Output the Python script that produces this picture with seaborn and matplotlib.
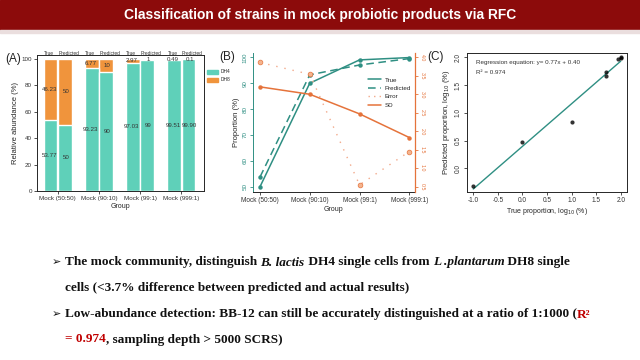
import matplotlib
matplotlib.use("Agg")
import matplotlib.pyplot as plt
from matplotlib.patches import Rectangle, Patch
from matplotlib.lines import Line2D
import seaborn as sns
import pandas as pd

# ---------------- data ----------------
groups = ["Mock (50:50)", "Mock (90:10)", "Mock (99:1)", "Mock (999:1)"]
kinds = ["True", "Predicted"]
dh4_true = [53.77, 93.23, 97.03, 99.51]
dh4_pred = [50, 90, 99, 99.90]
dh8_true = [46.23, 6.77, 2.97, 0.49]
dh8_pred = [50, 10, 1, 0.1]
dh4_true_lbl = ["53.77", "93.23", "97.03", "99.51"]
dh4_pred_lbl = ["50", "90", "99", "99.90"]
dh8_true_lbl = ["46.23", "6.77", "2.97", "0.49"]
dh8_pred_lbl = ["50", "10", "1", "0.1"]

b_true = [50, 90, 99, 99.9]
b_pred = [53.77, 93.23, 97.03, 99.51]
b_error = [3.86, 3.54, 0.55, 1.45]
b_sd = [3.20, 3.00, 2.47, 1.83]
b_right_ticks = [0.5, 1.0, 1.5, 2.0, 2.5, 3.0, 3.5, 4.0]

c_true = [-1.0, 0.0, 1.0, 1.699, 1.699, 1.954, 1.996, 2.0]
c_pred = [-0.31, 0.47, 0.83, 1.665, 1.731, 1.970, 1.987, 1.998]

title = "Classification of strains in mock probiotic products via RFC"

# ---------------- style ----------------
sns.set_style("ticks")
plt.rcParams["font.family"] = ["Liberation Sans", "DejaVu Sans"]
plt.rcParams["axes.linewidth"] = 0.7

TEAL = "#5fd0b9"
ORANGE = "#f0943c"
DTEAL = "#2f8f83"
DORANGE = "#e5733b"
PX = 1 / 640
PY = 1 / 360

fig = plt.figure(figsize=(6.4, 3.6), dpi=100)

# title band
fig.patches.append(Rectangle((0, 1 - 30 * PY), 1, 30 * PY, transform=fig.transFigure,
                             color="#8c0b0b", zorder=0))
fig.patches.append(Rectangle((0, 1 - 33 * PY), 1, 3 * PY, transform=fig.transFigure,
                             color="#eadede", zorder=0))
fig.text(0.5, 1 - 15.5 * PY, title, color="white", fontsize=9.9, fontweight="bold",
         ha="center", va="center")


def ax_at(l, t, r, b):
    return fig.add_axes([l * PX, 1 - b * PY, (r - l) * PX, (b - t) * PY])

# ---------------- panel A ----------------
axA = ax_at(36.7, 55, 204, 191)
rows = []
for i, g in enumerate(groups):
    rows.append(dict(group=g, kind="True", dh4=dh4_true[i], tot=dh4_true[i] + dh8_true[i]))
    rows.append(dict(group=g, kind="Predicted", dh4=dh4_pred[i], tot=dh4_pred[i] + dh8_pred[i]))
dfA = pd.DataFrame(rows)
sns.barplot(data=dfA, x="group", y="tot", hue="kind", hue_order=kinds, order=groups,
            palette=[ORANGE, ORANGE], width=0.7, gap=0.04, ax=axA, legend=False,
            saturation=1, errorbar=None)
sns.barplot(data=dfA, x="group", y="dh4", hue="kind", hue_order=kinds, order=groups,
            palette=[TEAL, TEAL], width=0.7, gap=0.04, ax=axA, legend=False,
            saturation=1, errorbar=None)
axA.set_xlim(-0.51, 3.55)
axA.set_ylim(0, 103)
axA.set_yticks([0, 20, 40, 60, 80, 100])
axA.tick_params(labelsize=4.5, length=2, width=0.6, pad=1.5, colors="#333333")
axA.set_xlabel("Group", fontsize=5, labelpad=1.5)
axA.set_ylabel("Relative abundance (%)", fontsize=5.5, labelpad=2)
for sp in axA.spines.values():
    sp.set_visible(True)
off = 0.175
for i in range(len(groups)):
    for dx, sh, a, b, la, lb, kname in [
            (-off, -0.025, dh4_true[i], dh8_true[i], dh4_true_lbl[i], dh8_true_lbl[i], "True"),
            (off, 0.025, dh4_pred[i], dh8_pred[i], dh4_pred_lbl[i], dh8_pred_lbl[i], "Predicted")]:
        axA.text(i + dx + sh, a / 2, la, fontsize=4.4, ha="center", va="center", color="#333333")
        axA.text(i + dx + sh, a + b / 2, lb, fontsize=4.4, ha="center", va="center", color="#333333")
        axA.text(i + dx - 0.16, 102.6, kname, fontsize=3.5, ha="left", va="bottom", color="#333333")
fig.text(5 * PX, 1 - 59 * PY, "(A)", fontsize=8.5, va="center", color="#222222")
fig.legend(handles=[Patch(color=TEAL, label="DH4"), Patch(color=ORANGE, label="DH8")],
           loc="upper left", bbox_to_anchor=(205 * PX, 1 - 67 * PY), frameon=False,
           fontsize=3.5, handlelength=2.2, handleheight=0.8, labelspacing=0.6,
           borderpad=0, handletextpad=0.5)

# ---------------- panel B ----------------
axB = ax_at(252.7, 53.3, 415, 191.7)
xpos = list(range(len(groups)))
sns.lineplot(x=xpos, y=b_true, color=DTEAL, linewidth=1.1, marker="o", markersize=3.2,
             markeredgewidth=0, ax=axB, label="True", legend=False)
sns.lineplot(x=xpos, y=b_pred, color=DTEAL, linewidth=1.1, linestyle=(0, (5, 3)),
             marker="o", markersize=3.2, markeredgewidth=0, ax=axB, label="Predicted", legend=False)
axB.set_xlim(-0.147, 3.115)
axB.set_ylim(48.07, 101.55)
axB.set_yticks([50, 60, 70, 80, 90, 100])
axB.set_xticks(xpos)
axB.set_xticklabels(groups)
axB.tick_params(axis="x", labelsize=4.7, length=2, width=0.6, pad=1.5, colors="#333333")
axB.tick_params(axis="y", labelsize=4.5, length=2, width=0.6, pad=1.5, colors=DTEAL,
                labelrotation=90)
for lab in axB.get_yticklabels():
    lab.set_va("center")
axB.set_xlabel("Group", fontsize=5, labelpad=1.5)
axB.set_ylabel("Proportion (%)", fontsize=5.5, labelpad=2)
axB.spines["left"].set_color(DTEAL)
axB.spines["top"].set_visible(False)
axB.spines["right"].set_visible(False)

axB2 = axB.twinx()
sns.lineplot(x=xpos, y=b_error, color="#f2a98a", linewidth=1.0, linestyle=(0, (1, 5)),
             marker="o", markersize=3.4, markerfacecolor="#f4b48f", markeredgecolor=DORANGE,
             markeredgewidth=0.5, ax=axB2, label="Error", legend=False)
sns.lineplot(x=xpos, y=b_sd, color=DORANGE, linewidth=1.1, marker="o", markersize=3.2,
             markeredgewidth=0, ax=axB2, label="SD", legend=False)
axB2.set_ylim(0.365, 4.108)
axB2.set_yticks(b_right_ticks)
axB2.tick_params(axis="y", labelsize=3.8, length=2, width=0.6, pad=1.5, colors=DORANGE,
                 labelrotation=-90)
for lab in axB2.get_yticklabels():
    lab.set_va("center")
axB2.spines["right"].set_color(DORANGE)
axB2.spines["right"].set_linewidth(0.9)
axB2.spines["left"].set_visible(False)
axB2.spines["top"].set_visible(False)
axB2.spines["bottom"].set_visible(False)
axB2.set_ylabel("")
h = [Line2D([], [], color=DTEAL, lw=1.1), Line2D([], [], color=DTEAL, lw=1.1, ls=(0, (5, 3))),
     Line2D([], [], color="#f2a98a", lw=1.0, ls=(0, (1, 3))), Line2D([], [], color=DORANGE, lw=1.1)]
axB2.legend(h, ["True", "Predicted", "Error", "SD"], loc="upper left",
            bbox_to_anchor=(365 * PX, 1 - 74 * PY), bbox_transform=fig.transFigure,
            frameon=False, fontsize=4.5, handlelength=2.0, labelspacing=0.5, borderpad=0,
            handletextpad=0.6)
fig.text(219 * PX, 1 - 57 * PY, "(B)", fontsize=8.5, va="center", color="#222222")

# ---------------- panel C ----------------
axC = ax_at(466.7, 53.3, 626.7, 191.7)
sns.regplot(x=c_true, y=c_pred, ci=None, ax=axC, color="black",
            scatter_kws=dict(s=9, zorder=3, linewidths=0),
            line_kws=dict(color=DTEAL, linewidth=1.0))
axC.set_xlim(-1.134, 2.122)
axC.set_ylim(-0.42, 2.072)
axC.set_xticks([-1.0, -0.5, 0.0, 0.5, 1.0, 1.5, 2.0])
axC.set_yticks([0.0, 0.5, 1.0, 1.5, 2.0])
axC.xaxis.set_major_formatter(matplotlib.ticker.FormatStrFormatter("%.1f"))
axC.yaxis.set_major_formatter(matplotlib.ticker.FormatStrFormatter("%.1f"))
axC.tick_params(labelsize=4.7, length=2, width=0.6, pad=1.5, colors="#333333")
axC.tick_params(axis="y", labelrotation=90)
for lab in axC.get_yticklabels():
    lab.set_va("center")
for sp in axC.spines.values():
    sp.set_visible(True)
axC.set_xlabel("True proportion, log$_{10}$ (%)", fontsize=5, labelpad=1.5)
axC.set_ylabel("Predicted proportion, log$_{10}$ (%)", fontsize=5.5, labelpad=2)
axC.text(0.055, 0.955, "Regression equation: y= 0.77x + 0.40", transform=axC.transAxes,
         fontsize=4.5, va="top", color="#333333")
axC.text(0.055, 0.88, "R² = 0.974", transform=axC.transAxes, fontsize=4.5, va="top",
         color="#333333")
fig.text(427 * PX, 1 - 57 * PY, "(C)", fontsize=8.5, va="center", color="#222222")

# ---------------- bullet text ----------------
bg = fig.add_axes([0, 0, 1, 1], zorder=-5)
bg.axis("off")
SERIF = ["Liberation Serif", "DejaVu Serif"]
FS = 9.5
RED = "#c00000"


def chain(x, ybase, pieces):
    prev = None
    for txt, style, col in pieces:
        kw = dict(fontsize=FS, fontweight="bold", family=SERIF, color=col,
                  fontstyle=style, ha="left", va="bottom")
        if prev is None:
            prev = bg.text(x * PX, 1 - ybase * PY, txt, transform=bg.transAxes, **kw)
        else:
            prev = bg.annotate(txt, xy=(1, 0), xycoords=prev, **kw)


for yb in (262, 314):
    bg.text(52 * PX, 1 - yb * PY, "➢", fontsize=8, family=["DejaVu Sans"], ha="left",
            va="center", transform=bg.transAxes, color="#111111")

K = "#111111"
chain(65, 268.5, [("The mock community, distinguish ", "normal", K), ("B. lactis", "italic", K),
                  (" DH4 single cells from ", "normal", K), ("L .plantarum", "italic", K),
                  (" DH8 single", "normal", K)])
chain(65, 294.5, [("cells (<3.7% difference between predicted and actual results)", "normal", K)])
chain(65, 320.5, [("Low-abundance detection: BB-12 can still be accurately distinguished at a ratio of 1:1000 (",
                   "normal", K), ("R²", "normal", RED)])
chain(65, 345.5, [("= 0.974", "normal", RED), (", sampling depth > 5000 SCRS)", "normal", K)])

fig.savefig("out.png", dpi=100)
